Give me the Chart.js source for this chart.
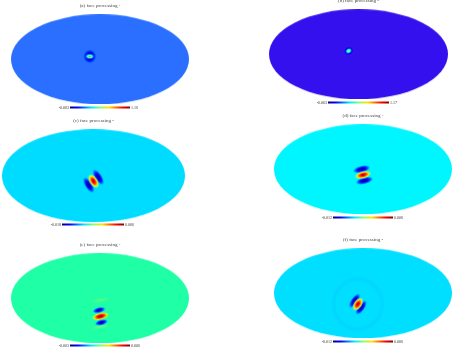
<!DOCTYPE html>
<html>
<head>
<meta charset="utf-8">
<script src="https://cdn.jsdelivr.net/npm/chart.js@4/dist/chart.umd.min.js"></script>
<style>
  html, body { margin: 0; background: #fff; overflow: hidden; width: 474px; height: 351px; }
  #page { position: relative; width: 474px; height: 351px; }
  canvas { position: absolute; display: block; filter: blur(0.4px); }
  canvas.bar { filter: blur(0.2px); }
</style>
</head>
<body>
<div id="page"></div>
<script>
// panel text
const titles = ['(a) face processing -', '(b) face processing -', '(c) face processing -',
  '(d) face processing -', '(e) face processing -', '(f) face processing -'];
const scaleMin = [-0.003, -0.003, -0.018, -0.012, -0.003, -0.012];
const scaleMax = [1.16, 1.17, 0.006, 0.006, 0.006, 0.006];
const minLabels = ['-0.003', '-0.003', '-0.018', '-0.012', '-0.003', '-0.012'];
const maxLabels = ['1.16', '1.17', '0.006', '0.006', '0.006', '0.006'];

// level of the empty sky on the 0..1 colour bar
const skyLevel = [0.27, 0.1, 0.33, 0.36, 0.44, 0.33];

// blobs of each map, core first: longitude, latitude (degrees on the sphere), colour bar level
const blobLon = [[-22, -22, -22], [-21, -21], [0, 10, -10], [0, -3, 3], [1, -2, 3], [-11, -18, -4]];
const blobLat = [[6, 6, 6], [7, 7], [-11, -3, -19], [-12, 0, -24], [-38, -25, -51], [-23, -16, -30]];
const blobLevel = [[0.82, 0.5, 0.03], [0.55, 0.05], [0.96, 0.03, 0.03], [0.96, 0.03, 0.03], [0.98, 0.02, 0.02], [0.96, 0.03, 0.03]];

// faint ripples around the main blob in the last maps
const rippleLon = [[], [], [], [], [1, 1], [-11]];
const rippleLat = [[], [], [], [], [-4, -60], [-23]];
const rippleLevel = [[], [], [], [], [0.6, 0.6], [0.22]];

// layout, drawing only
const sky = ['#2a6fff', '#3510ee', '#00dcff', '#00f6ff', '#1effa6', '#00dfff'];
const boxes = [
  { l: 11, t: 14, w: 178, h: 90, barL: 70, barW: 60, barY: 107.5 },
  { l: 269, t: 9, w: 179, h: 90, barL: 328, barW: 61, barY: 103 },
  { l: 2, t: 129, w: 183, h: 93, barL: 62, barW: 62, barY: 225 },
  { l: 274, t: 124, w: 178, h: 90, barL: 333, barW: 60, barY: 217.5 },
  { l: 11, t: 253, w: 178, h: 90, barL: 70, barW: 60, barY: 346 },
  { l: 274, t: 248, w: 178, h: 90, barL: 333, barW: 60, barY: 341.5 }
];
// radius x, radius y, rotation for each blob
const blobShapes = [
  [[1.8, 1.5, 0], [4.5, 2.6, 0], [7, 7.5, 0]],
  [[3.6, 2.8, -30], [4.6, 4, -30]],
  [[8.5, 4.5, 58], [9.5, 4, 58], [9.5, 4, 58]],
  [[9, 4, -14], [9.5, 3.8, -14], [9.5, 3.8, -14]],
  [[9, 3.8, -14], [7.5, 3.2, -14], [7.5, 3.2, -14]],
  [[8, 4.5, -55], [9, 3.8, -55], [9, 3.8, -55]]
];
const rippleShapes = [[], [], [], [], [[10, 2, -10], [10, 2, -10]], [[27, 28, 0]]];

const titleFont = { family: '"Liberation Serif", serif', size: 5, weight: 'normal' };
const tickFont = { family: '"Liberation Serif", serif', size: 4 };
const jetStops = [0, 0.11, 0.125, 0.35, 0.5, 0.65, 0.875, 1];

function jet(t) {
  const clamp = v => Math.round(Math.max(0, Math.min(1, v)) * 255);
  return [clamp(1.5 - Math.abs(4 * t - 3)), clamp(1.5 - Math.abs(4 * t - 2)), clamp(1.5 - Math.abs(4 * t - 1))];
}
function rgba(c, a) { return 'rgba(' + c[0] + ',' + c[1] + ',' + c[2] + ',' + a + ')'; }

// a point style: soft ellipse that walks the colour bar from its level out to the sky
function blobSprite(shape, level, bg) {
  const c = document.createElement('canvas');
  c.width = Math.ceil(shape[0] * 2) + 2;
  c.height = Math.ceil(shape[1] * 2) + 2;
  const g = c.getContext('2d');
  g.translate(c.width / 2, c.height / 2);
  g.scale(shape[0], shape[1]);
  const grad = g.createRadialGradient(0, 0, 0, 0, 0, 1);
  for (let i = 0; i <= 8; i++) {
    const f = i / 8;
    const a = f < 0.7 ? 1 : (1 - f) / 0.3;
    grad.addColorStop(f, rgba(jet(level + (bg - level) * Math.pow(f, 1.5)), a));
  }
  g.fillStyle = grad;
  g.beginPath();
  g.arc(0, 0, 1, 0, Math.PI * 2);
  g.fill();
  return c;
}
function rippleSprite(shape, level) {
  const c = document.createElement('canvas');
  c.width = Math.ceil(shape[0] * 2) + 2;
  c.height = Math.ceil(shape[1] * 2) + 2;
  const g = c.getContext('2d');
  g.translate(c.width / 2, c.height / 2);
  g.scale(shape[0], shape[1]);
  const grad = g.createRadialGradient(0, 0, 0, 0, 0, 1);
  const col = jet(level);
  if (shape[0] > 20) {
    grad.addColorStop(0, rgba(col, 0));
    grad.addColorStop(0.78, rgba(col, 0));
    grad.addColorStop(0.9, rgba(col, 0.07));
    grad.addColorStop(1, rgba(col, 0));
  } else {
    grad.addColorStop(0, rgba(col, 0.4));
    grad.addColorStop(1, rgba(col, 0));
  }
  g.fillStyle = grad;
  g.beginPath();
  g.arc(0, 0, 1, 0, Math.PI * 2);
  g.fill();
  return c;
}
function skySprite(box, color) {
  const c = document.createElement('canvas');
  c.width = box.w;
  c.height = box.h;
  const g = c.getContext('2d');
  g.fillStyle = color;
  g.beginPath();
  g.ellipse(box.w / 2, box.h / 2, box.w / 2, box.h / 2, 0, 0, Math.PI * 2);
  g.fill();
  return c;
}
function addCanvas(left, top, w, h) {
  const c = document.createElement('canvas');
  c.width = w;
  c.height = h;
  c.style.left = left + 'px';
  c.style.top = top + 'px';
  c.style.width = w + 'px';
  c.style.height = h + 'px';
  document.getElementById('page').appendChild(c);
  return c;
}

const titleBlock = 14;

titles.forEach((title, p) => {
  const box = boxes[p];
  const xy = (lon, lat) => lon.map((x, i) => ({ x: x, y: lat[i] }));

  const mapCanvas = addCanvas(box.l, box.t - titleBlock, box.w, box.h + titleBlock);
  const map = new Chart(mapCanvas, {
    type: 'scatter',
    data: {
      datasets: [
        { data: [{ x: 0, y: 0 }], pointStyle: skySprite(box, sky[p]), clip: false, order: 4 },
        {
          data: xy(rippleLon[p], rippleLat[p]),
          pointStyle: rippleShapes[p].map((s, i) => rippleSprite(s, rippleLevel[p][i])),
          pointRotation: rippleShapes[p].map(s => s[2]),
          clip: false, order: 3
        },
        {
          // drawn back to front so the core sits on the lobes
          data: xy(blobLon[p], blobLat[p]).reverse(),
          pointStyle: blobShapes[p].map((s, i) => blobSprite(s, blobLevel[p][i], skyLevel[p])).reverse(),
          pointRotation: blobShapes[p].map(s => s[2]).reverse(),
          clip: false, order: 2
        }
      ]
    },
    options: {
      responsive: false,
      animation: false,
      events: [],
      layout: { padding: 0 },
      scales: {
        x: { type: 'linear', min: -180, max: 180, display: false },
        y: { type: 'linear', min: -90, max: 90, display: false }
      },
      plugins: {
        legend: { display: false },
        tooltip: { enabled: false },
        title: {
          display: true, text: title, color: '#444', font: titleFont,
          padding: { top: 0, bottom: 7.5 }
        }
      }
    }
  });
  // line the sphere centre up with the box, whatever the title took
  const centerY = map.scales.y.getPixelForValue(0);
  mapCanvas.style.top = (box.t + box.h / 2 - centerY) + 'px';

  // colour bar with its two end labels
  const labelW = 13;
  const barCanvas = addCanvas(box.barL - labelW, Math.floor(box.barY - 4.5), box.barW + labelW * 2, 9);
  barCanvas.className = 'bar';
  new Chart(barCanvas, {
    type: 'bar',
    data: {
      labels: [minLabels[p]],
      datasets: [{
        data: [[scaleMin[p], scaleMax[p]]],
        barThickness: 3,
        backgroundColor: ctx => {
          const area = ctx.chart.chartArea;
          if (!area) return '#00f';
          const grad = ctx.chart.ctx.createLinearGradient(area.left, 0, area.right, 0);
          jetStops.forEach(s => grad.addColorStop(s, rgba(jet(s), 1)));
          return grad;
        }
      }]
    },
    options: {
      indexAxis: 'y',
      responsive: false,
      animation: false,
      events: [],
      layout: { padding: 0 },
      scales: {
        x: { type: 'linear', min: scaleMin[p], max: scaleMax[p], display: false },
        y: {
          type: 'category', labels: [minLabels[p]], position: 'left',
          grid: { display: false, drawTicks: false }, border: { display: false },
          ticks: { font: tickFont, color: '#333', padding: 1, autoSkip: false },
          afterFit: s => { s.width = labelW; }
        },
        y2: {
          type: 'category', labels: [maxLabels[p]], position: 'right',
          grid: { display: false, drawTicks: false }, border: { display: false },
          ticks: { font: tickFont, color: '#333', padding: 1, autoSkip: false },
          afterFit: s => { s.width = labelW; }
        }
      },
      plugins: { legend: { display: false }, tooltip: { enabled: false } }
    }
  });
});
</script>
</body>
</html>
